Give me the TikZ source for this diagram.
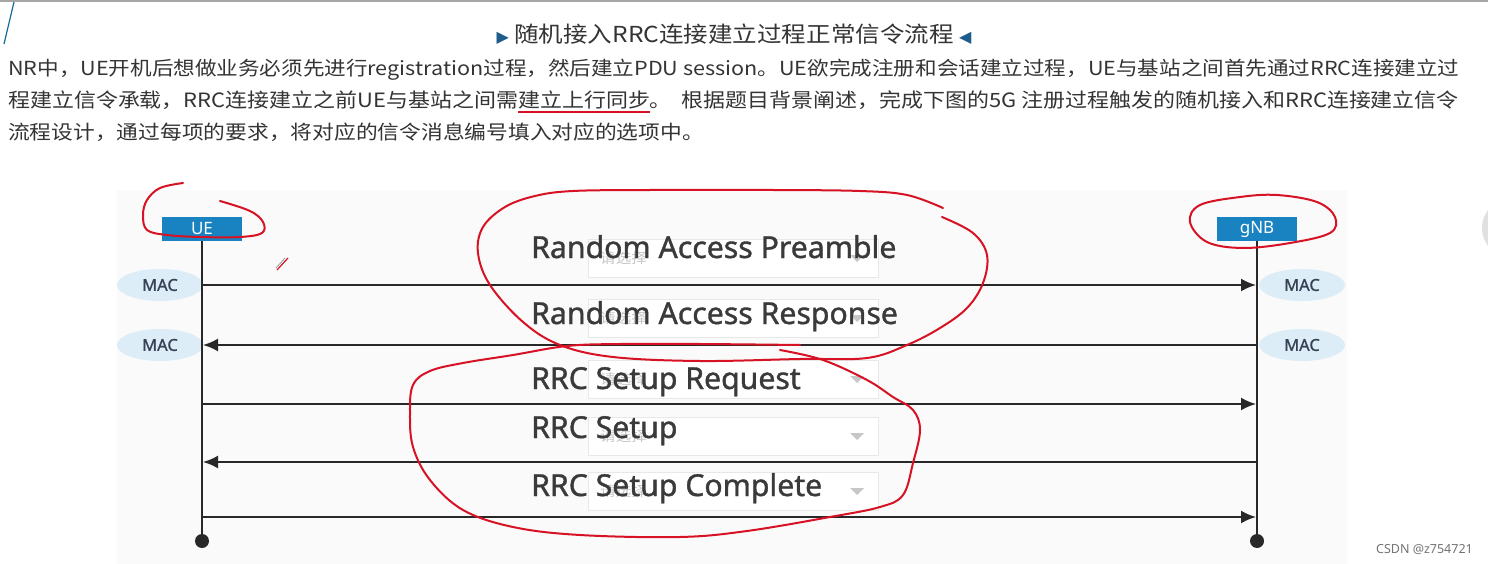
\documentclass[tikz,border=0pt]{standalone}
\usepackage{fontspec}
\setmainfont{Noto Sans}
\newfontfamily\cjk[FakeStretch=1.115]{Noto Sans CJK SC}
\newfontfamily\symfont{DejaVu Sans}
\newfontfamily\lblfont[FakeBold=1.2]{Noto Sans}
\usetikzlibrary{arrows.meta,shapes.geometric,positioning}
\definecolor{boxblue}{RGB}{24,131,192}
\definecolor{macfill}{RGB}{221,237,248}
\definecolor{mactext}{RGB}{56,66,86}
\definecolor{lifegray}{RGB}{40,40,40}
\definecolor{lbltext}{RGB}{58,58,58}
\definecolor{bodytext}{RGB}{52,52,52}
\definecolor{pen}{RGB}{214,18,36}
\definecolor{triblue}{RGB}{30,92,140}

\newsavebox\penbox
\newcommand\penline[1]{\sbox\penbox{#1}\rlap{\color{pen}\rule[-5pt]{\wd\penbox}{1.6pt}}#1}

\tikzset{
  entity/.style={fill=boxblue, text=white, minimum width=80pt, minimum height=23pt, inner sep=0pt, font=\fontsize{17}{17}\selectfont},
  mac/.style={ellipse, fill=macfill, text=mactext, minimum width=86pt, minimum height=32pt, inner sep=0pt, font=\lblfont\fontsize{16.5}{16.5}\selectfont},
  life/.style={lifegray, line width=2pt},
  msg/.style={lifegray, line width=2pt, -{Latex[length=15pt,width=13pt]}, shorten >=1pt},
  dropbox/.style={draw=black!9, fill=white, minimum width=290pt, minimum height=38pt, inner sep=0pt},
  hint/.style={text=black!22, inner sep=0pt, font=\cjk\fontsize{14}{14}\selectfont},
  lbl/.style={text=lbltext, inner sep=0pt, anchor=base west, font=\lblfont\fontsize{30.2}{30}\selectfont},
  body/.style={text=bodytext, inner sep=0pt, anchor=base west, font=\cjk\fontsize{19.5}{22}\selectfont},
  handmark/.style={pen, line width=2pt, line cap=round, line join=round}
}

\begin{document}
\begin{tikzpicture}[x=1pt,y=-1pt]
\useasboundingbox (0,0) rectangle (1488,564);
\clip (0,0) rectangle (1488,564);
\fill[white] (0,0) rectangle (1488,564);

% page frame bits of the screenshot
\draw[black!35, line width=2pt] (0,1) -- (1488,1);
\draw[boxblue!80!black, line width=1.2pt] (14,2) -- (4,44);
\fill[black!12] (1512,228) circle [radius=30pt];
\fill[black!2] (117,190) rectangle (1347,564);

% title and question text
\node[anchor=base, text=bodytext, inner sep=0pt, font=\cjk\fontsize{22}{22}\selectfont] (title) at (734,43)
  {{\symfont\fontsize{16}{16}\selectfont\textcolor{triblue}{▶}}\ 随机接入RRC连接建立过程正常信令流程\ {\symfont\fontsize{16}{16}\selectfont\textcolor{triblue}{◀}}};
\node[body, font=\cjk\fontsize{19.35}{22}\selectfont] (line1) at (8,76) {NR中，UE开机后想做业务必须先进行registration过程，然后建立PDU session。UE欲完成注册和会话建立过程，UE与基站之间首先通过RRC连接建立过};
\node[body, font=\cjk\fontsize{19.7}{22}\selectfont] (line2) at (8,108) {程建立信令承载，RRC连接建立之前UE与基站之间需\penline{建立上行同步}。\ \ 根据题目背景阐述，完成下图的5G 注册过程触发的随机接入和RRC连接建立信令};
\node[body] (line3) at (8,140) {流程设计，通过每项的要求，将对应的信令消息编号填入对应的选项中。};

% the two entities
\node[entity] (ue) at (202,229) {UE};
\node[entity] (gnb) at (1257,229) {gNB};
\coordinate (ue-end) at (202,541);
\coordinate (gnb-end) at (1257,541);

% MAC layer tags
\foreach \y [count=\i] in {285,345}
{
\node[mac] (ue-mac\i) at (160,\y) {MAC};
\node[mac] (gnb-mac\i) at (1302,\y) {MAC};
}

\draw[life] (ue.south) -- (ue-end);
\draw[life] (gnb.south) -- (gnb-end);
\fill[lifegray] (ue-end) circle [radius=7pt];
\fill[lifegray] (gnb-end) circle [radius=7pt];

% messages: arrow y / from / to / label / label baseline / select box y
\def\msgs{285/ue/gnb/{Random Access Preamble}/258/258,
          345/gnb/ue/{Random Access Response}/324/318,
          404/ue/gnb/{RRC Setup Request}/389/379,
          462/gnb/ue/{RRC Setup}/438/436,
          517/ue/gnb/{RRC Setup Complete}/496/491}

\foreach \y/\src/\dst/\txt/\base/\dy [count=\i] in \msgs
{
\coordinate (ue-\i) at (202,\y);
\coordinate (gnb-\i) at (1257,\y);
\draw[msg] (\src-\i) -- (\dst-\i);
\node[dropbox] (drop-\i) at (733,\dy) {};
\node[hint, anchor=west] (hint-\i) at (600,\dy) {请选择};
\fill[black!22] (850,\dy-3) -- (864,\dy-3) -- (857,\dy+4) -- cycle;
\node[lbl] (lbl-\i) at (531,\base) {\txt};
}

% red pen marks
\draw[handmark] plot[smooth, tension=0.6] coordinates {(183,183) (160,188) (147,200) (143,215) (147,230) (167,235) (200,237) (240,237) (262,233) (263,222) (250,211) (220,201)};
\draw[handmark] plot[smooth cycle, tension=0.6] coordinates {(1190,222) (1200,205) (1240,197) (1277,195) (1317,202) (1335,217) (1330,233) (1290,243) (1243,248) (1207,242)};
\draw[handmark] plot[smooth, tension=0.6] coordinates {(943,208) (907,195) (860,191) (773,190) (650,190) (573,191) (535,196) (505,207) (483,227) (478,253) (490,285) (523,322) (560,345) (613,357) (700,361) (800,359) (867,358) (907,345) (940,328) (967,308) (983,283) (987,255) (973,233) (942,217)};
\draw[handmark] plot[smooth, tension=0.6] coordinates {(800,345) (700,344) (620,344) (567,346) (513,355) (463,363) (430,371) (413,385) (410,413) (413,447) (430,480) (463,510) (513,527) (580,535) (680,537) (747,531) (830,517) (880,507) (903,495) (913,463) (920,430) (913,410) (893,397) (867,380) (823,360) (780,350)};
\draw[pen, line width=1.2pt] (288,258) -- (277,270);
\draw[black!40, line width=0.8pt] (285,258) -- (276,268);

% watermark
\node[anchor=east, text=black!55, inner sep=0pt, font=\fontsize{12.5}{13}\selectfont] (mark) at (1473,550) {CSDN @z754721};
\end{tikzpicture}
\end{document}
